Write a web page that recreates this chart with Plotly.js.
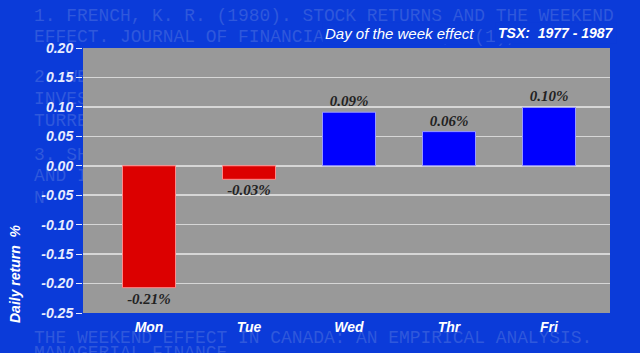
<!DOCTYPE html>
<html>
<head>
<meta charset="utf-8">
<script src="https://cdn.plot.ly/plotly-3.0.1.min.js"></script>
<style>html,body{margin:0;padding:0;background:#0b3bd9;}#chart{width:640px;height:353px;}</style>
</head>
<body>
<div id="chart"></div>
<script>
// ---- data ----
const days = ["Mon", "Tue", "Wed", "Thr", "Fri"];
const dailyReturn = [-0.207, -0.023, 0.091, 0.058, 0.099];
const valueLabels = ["-0.21%", "-0.03%", "0.09%", "0.06%", "0.10%"];
const barColors = ["#dc0000", "#dc0000", "#0000ff", "#0000ff", "#0000ff"];
const barEdges = ["#ff8a8a", "#ff8a8a", "#9a9aff", "#9a9aff", "#9a9aff"];
const yTickVals = [0.20, 0.15, 0.10, 0.05, 0.00, -0.05, -0.10, -0.15, -0.20, -0.25];
const yTickText = ["0.20", "0.15", "0.10", "0.05", "0.00", "-0.05", "-0.10", "-0.15", "-0.20", "-0.25"];
const chartTitle = "Day of the week effect";
const chartSubtitle = "TSX:&nbsp;&nbsp;1977 - 1987";
const yTitle = "Daily return&nbsp;&nbsp;%";

// faint text of the underlying slide (partly hidden behind the chart)
const bgLines = [
  {t: "1. FRENCH, K. R. (1980). STOCK RETURNS AND THE WEEKEND", y: 13},
  {t: "EFFECT. JOURNAL OF FINANCIAL ECONOMICS, 8(1), 55-69.", y: 34},
  {t: "2. WESTERFIELD", y: 74},
  {t: "INVESTMENT", y: 96},
  {t: "TURRET", y: 118},
  {t: "3. SHARPE", y: 152},
  {t: "AND IN", y: 173},
  {t: "N", y: 195},
  {t: "THE WEEKEND EFFECT IN CANADA: AN EMPIRICAL ANALYSIS.", y: 335},
  {t: "MANAGERIAL FINANCE", y: 350}
];

const L = 83, R = 30, T = 48, B = 40, W = 640, H = 353;
const pw = W - L - R, ph = H - T - B;
const px2x = x => (x - L) / pw;
const px2y = y => (H - B - y) / ph;

const shapes = bgLines.map(l => ({
  type: "rect", xref: "paper", yref: "paper", layer: "below",
  x0: px2x(31), x1: px2x(615), y0: px2y(l.y + 10), y1: px2y(l.y - 10),
  line: {width: 0}, fillcolor: "rgba(0,0,0,0)",
  label: {
    text: l.t, textposition: "middle left", padding: 0,
    font: {family: "Liberation Mono, Courier New, monospace", size: 17.9, color: "#2f58dc"}
  }
}));
// grey plotting area drawn over the slide text
shapes.push({
  type: "rect", xref: "paper", yref: "paper", layer: "below",
  x0: 0, x1: 1, y0: 0, y1: 1,
  line: {width: 0}, fillcolor: "#999999"
});

const annotations = [];
annotations.push({
  text: chartTitle, xref: "paper", yref: "paper",
  x: px2x(399), y: px2y(33), xanchor: "center", yanchor: "middle", showarrow: false,
  bgcolor: "#0b3bd9", borderpad: 2,
  font: {family: "Liberation Sans, Arial, sans-serif", size: 15, color: "#ffffff", style: "italic"}
});
annotations.push({
  text: chartSubtitle, xref: "paper", yref: "paper",
  x: px2x(556), y: px2y(33), xanchor: "center", yanchor: "middle", showarrow: false,
  bgcolor: "#0b3bd9", borderpad: 2,
  font: {family: "Liberation Sans, Arial, sans-serif", size: 14, color: "#ffffff", style: "italic", weight: "bold"}
});
annotations.push({
  text: yTitle, xref: "paper", yref: "paper",
  x: px2x(15), y: px2y(274), xanchor: "center", yanchor: "middle", showarrow: false,
  textangle: -90,
  font: {family: "Liberation Sans, Arial, sans-serif", size: 14, color: "#ffffff", style: "italic", weight: "bold"}
});

const trace = {
  type: "bar",
  x: days,
  y: dailyReturn,
  width: 0.53,
  marker: {color: barColors, line: {color: barEdges, width: 1}},
  text: valueLabels,
  textposition: "outside",
  cliponaxis: false,
  textfont: {family: "Liberation Serif, Times New Roman, serif", size: 15, color: "#222222", style: "italic", weight: "bold"},
  hoverinfo: "skip"
};

const layout = {
  width: W, height: H,
  margin: {l: L, r: R, t: T, b: B, pad: 0},
  paper_bgcolor: "#0b3bd9",
  plot_bgcolor: "rgba(0,0,0,0)",
  showlegend: false,
  xaxis: {
    type: "category",
    range: [-0.66, 4.61],
    showgrid: false, zeroline: false, showline: false,
    ticks: "",
    ticklabelstandoff: 4,
    tickfont: {family: "Liberation Sans, Arial, sans-serif", size: 14, color: "#ffffff", style: "italic", weight: "bold"},
    fixedrange: true
  },
  yaxis: {
    range: [-0.25, 0.20],
    tickmode: "array",
    tickvals: yTickVals,
    ticktext: yTickText,
    ticks: "outside", ticklen: 6, tickwidth: 1, tickcolor: "#e8ecff",
    showgrid: true, gridcolor: "#d6d6d6", gridwidth: 1.5,
    zeroline: true, zerolinecolor: "#d6d6d6", zerolinewidth: 1.5,
    showline: false,
    tickfont: {family: "Liberation Sans, Arial, sans-serif", size: 14, color: "#e8ecff", style: "italic", weight: "bold"},
    fixedrange: true
  },
  shapes: shapes,
  annotations: annotations
};

Plotly.newPlot("chart", [trace], layout, {staticPlot: true, displayModeBar: false});
</script>
</body>
</html>
